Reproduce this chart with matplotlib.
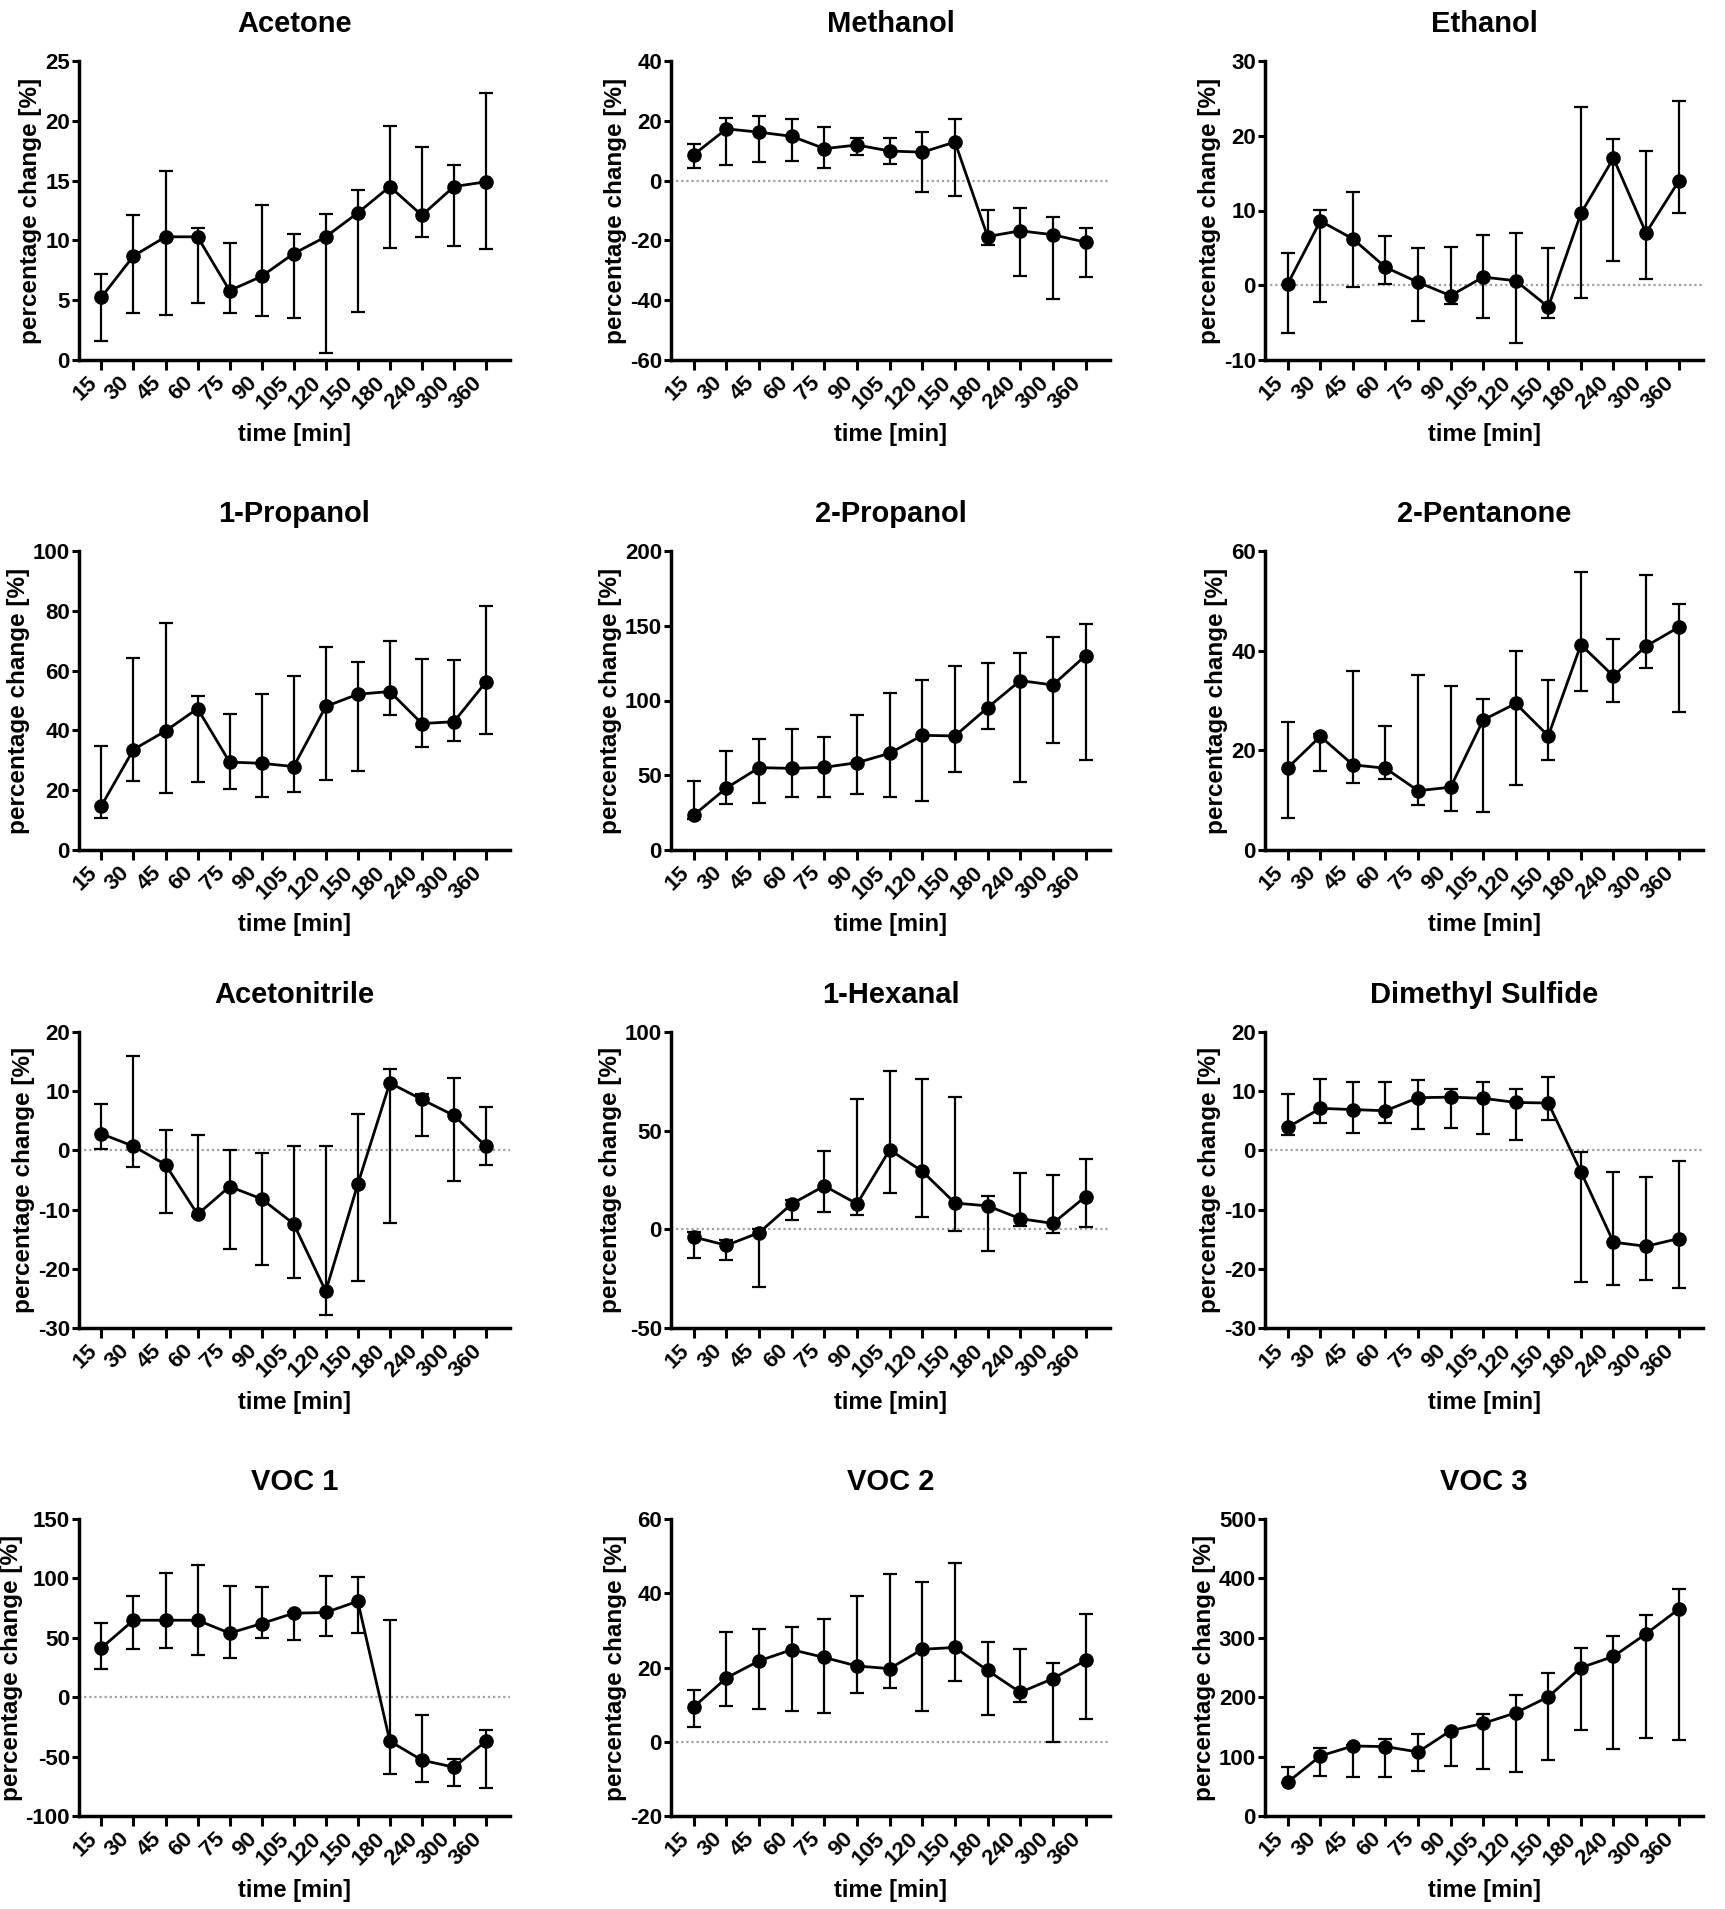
import matplotlib
matplotlib.use('Agg')
import matplotlib.pyplot as plt
import matplotlib.transforms as mtransforms
import numpy as np

plt.rcParams['font.family'] = ['Liberation Sans', 'DejaVu Sans']
plt.rcParams['font.weight'] = 'bold'
plt.rcParams['axes.unicode_minus'] = False

times = ['15', '30', '45', '60', '75', '90', '105', '120', '150', '180', '240', '300', '360']

# ---- data (centre value, lower whisker, upper whisker) ----
acetone_mid = [5.25, 8.7, 10.3, 10.3, 5.8, 7.0, 8.9, 10.3, 12.3, 14.5, 12.1, 14.5, 14.9]
acetone_lo = [1.6, 3.9, 3.8, 4.8, 3.9, 3.7, 3.5, 0.6, 4.0, 9.4, 10.3, 9.5, 9.3]
acetone_hi = [7.2, 12.1, 15.8, 11.0, 9.8, 13.0, 10.5, 12.2, 14.2, 19.6, 17.8, 16.3, 22.3]

methanol_mid = [8.7, 17.3, 16.2, 14.8, 10.7, 11.9, 9.9, 9.5, 12.9, -18.7, -16.8, -18.1, -20.6]
methanol_lo = [4.2, 5.2, 6.1, 6.4, 4.3, 8.6, 5.5, -3.8, -5.0, -21.5, -31.9, -39.7, -32.2]
methanol_hi = [12.2, 21.0, 21.7, 20.7, 17.8, 14.3, 14.3, 16.2, 20.5, -9.9, -9.3, -12.3, -15.9]

ethanol_mid = [0.2, 8.6, 6.2, 2.4, 0.4, -1.4, 1.1, 0.6, -2.9, 9.6, 17.0, 7.0, 13.9]
ethanol_lo = [-6.4, -2.3, -0.2, 0.2, -4.8, -2.5, -4.4, -7.7, -4.4, -1.7, 3.3, 0.9, 9.7]
ethanol_hi = [4.3, 10.1, 12.5, 6.6, 5.0, 5.1, 6.7, 7.0, 5.0, 23.9, 19.6, 18.0, 24.7]

propanol1_mid = [14.8, 33.6, 39.8, 47.3, 29.4, 29.0, 27.9, 48.0, 52.1, 53.0, 42.3, 42.9, 56.2]
propanol1_lo = [10.8, 23.2, 19.2, 22.6, 20.5, 17.6, 19.5, 23.4, 26.5, 45.0, 34.4, 36.6, 38.9]
propanol1_hi = [34.7, 64.2, 75.8, 51.6, 45.4, 52.2, 58.2, 67.9, 63.0, 70.0, 64.0, 63.7, 81.7]

propanol2_mid = [23.4, 41.5, 55.1, 54.6, 55.3, 58.4, 64.7, 76.7, 76.3, 95.2, 113.3, 110.4, 130.0]
propanol2_lo = [21.0, 30.8, 31.2, 35.2, 35.2, 37.7, 35.2, 33.0, 52.4, 80.9, 45.5, 71.3, 60.2]
propanol2_hi = [46.4, 66.4, 74.0, 81.2, 75.6, 90.1, 105.0, 113.9, 123.3, 124.9, 131.8, 142.5, 150.9]

pentanone_mid = [16.5, 22.8, 17.1, 16.4, 11.9, 12.6, 26.1, 29.4, 22.9, 41.2, 34.9, 40.9, 44.7]
pentanone_lo = [6.5, 15.9, 13.4, 14.2, 9.0, 7.8, 7.6, 13.1, 18.0, 32.0, 29.6, 36.5, 27.6]
pentanone_hi = [25.7, 23.3, 36.0, 24.9, 35.1, 33.0, 30.3, 40.0, 34.2, 55.7, 42.3, 55.2, 49.3]

acetonitrile_mid = [2.8, 0.7, -2.4, -10.8, -6.1, -8.2, -12.4, -23.8, -5.7, 11.4, 8.6, 5.9, 0.7]
acetonitrile_lo = [0.3, -2.8, -10.6, -11.1, -16.7, -19.4, -21.5, -27.8, -22.1, -12.2, 2.4, -5.2, -2.4]
acetonitrile_hi = [7.9, 15.9, 3.5, 2.6, 0.1, -0.4, 0.8, 0.7, 6.1, 13.8, 9.6, 12.3, 7.4]

hexanal_mid = [-3.9, -8.1, -1.7, 12.9, 22.0, 12.9, 40.3, 29.4, 13.3, 11.9, 5.4, 3.0, 16.6]
hexanal_lo = [-14.6, -15.4, -29.4, 4.9, 8.6, 7.4, 18.3, 6.5, -0.7, -10.9, 1.5, -1.7, 1.2]
hexanal_hi = [-1.3, -5.5, 0.0, 15.1, 39.6, 66.3, 80.4, 76.2, 67.0, 17.1, 28.5, 27.7, 35.6]

dms_mid = [3.9, 7.1, 6.9, 6.7, 8.9, 9.0, 8.8, 8.1, 8.0, -3.6, -15.5, -16.2, -14.9]
dms_lo = [2.6, 4.6, 2.9, 4.6, 3.6, 3.8, 2.8, 1.7, 5.2, -22.2, -22.7, -21.9, -23.2]
dms_hi = [9.6, 12.1, 11.6, 11.6, 11.9, 10.4, 11.5, 10.3, 12.4, -0.3, -3.6, -4.5, -1.8]

voc1_mid = [41.5, 64.8, 64.8, 64.8, 53.9, 62.0, 70.7, 71.3, 80.8, -37.0, -53.0, -58.9, -37.0]
voc1_lo = [24.1, 40.4, 41.5, 35.6, 33.1, 50.2, 48.0, 51.4, 54.2, -64.8, -71.8, -74.4, -76.6]
voc1_hi = [62.3, 85.3, 104.9, 111.7, 93.4, 92.6, 72.0, 101.9, 101.0, 65.1, -14.6, -51.9, -27.8]

voc2_mid = [9.4, 17.2, 21.8, 24.8, 22.7, 20.4, 19.7, 24.9, 25.4, 19.2, 13.3, 17.0, 21.9]
voc2_lo = [3.9, 9.5, 8.7, 8.2, 7.8, 13.2, 14.4, 8.3, 16.4, 7.3, 10.7, -0.2, 6.0]
voc2_hi = [13.9, 29.6, 30.3, 31.0, 33.1, 39.2, 45.1, 43.1, 48.2, 26.8, 25.1, 21.2, 34.3]

voc3_mid = [57, 101.1, 117.9, 116.8, 107.8, 143.6, 155.9, 173.7, 200.6, 249.7, 268.7, 306.7, 348.0]
voc3_lo = [55, 67, 65.9, 65.9, 75.4, 84.4, 79.9, 74.3, 94.4, 145.3, 112.8, 131.8, 128.5]
voc3_hi = [82.7, 115.1, 119.0, 130.2, 138.5, 145.0, 171.5, 204.5, 240.8, 282.1, 302.8, 338.0, 382.1]

titles = ['Acetone', 'Methanol', 'Ethanol',
          '1-Propanol', '2-Propanol', '2-Pentanone',
          'Acetonitrile', '1-Hexanal', 'Dimethyl Sulfide',
          'VOC 1', 'VOC 2', 'VOC 3']
mids = [acetone_mid, methanol_mid, ethanol_mid, propanol1_mid, propanol2_mid, pentanone_mid,
        acetonitrile_mid, hexanal_mid, dms_mid, voc1_mid, voc2_mid, voc3_mid]
los = [acetone_lo, methanol_lo, ethanol_lo, propanol1_lo, propanol2_lo, pentanone_lo,
       acetonitrile_lo, hexanal_lo, dms_lo, voc1_lo, voc2_lo, voc3_lo]
his = [acetone_hi, methanol_hi, ethanol_hi, propanol1_hi, propanol2_hi, pentanone_hi,
       acetonitrile_hi, hexanal_hi, dms_hi, voc1_hi, voc2_hi, voc3_hi]
y_ranges = [(0, 25, 5), (-60, 40, 20), (-10, 30, 10),
            (0, 100, 20), (0, 200, 50), (0, 60, 20),
            (-30, 20, 10), (-50, 100, 50), (-30, 20, 10),
            (-100, 150, 50), (-20, 60, 20), (0, 500, 100)]

# ---- layout (pixels) ----
W, H = 1725, 1909
lefts = [79, 671, 1265]
rights = [510, 1110, 1703]
tops = [61, 551, 1032, 1519]
bottoms = [360, 850, 1328, 1816]

fig = plt.figure(figsize=(W / 100, H / 100), dpi=100)
x = np.arange(len(times))
shift = mtransforms.ScaledTranslation(6 / 100, 0, fig.dpi_scale_trans)

for i in range(12):
    r, c = divmod(i, 3)
    l, rr, t, b = lefts[c], rights[c], tops[r], bottoms[r]
    ax = fig.add_axes([l / W, 1 - b / H, (rr - l) / W, (b - t) / H])
    m = np.array(mids[i], dtype=float)
    lo = np.array(los[i], dtype=float)
    hi = np.array(his[i], dtype=float)
    yerr = np.vstack([np.clip(m - lo, 0, None), np.clip(hi - m, 0, None)])
    ymin, ymax, step = y_ranges[i]
    if ymin < 0:
        ax.axhline(0, color='#a0a0a0', lw=1.6, ls=(0, (1, 1.3)), zorder=0)
    ax.errorbar(x, m, yerr=yerr, fmt='-o', color='black', ms=9.5, lw=2.0,
                elinewidth=1.6, capsize=5, capthick=1.6, zorder=3, clip_on=False)
    ax.set_xlim(-0.7, 12.75)
    ax.set_ylim(ymin, ymax)
    ax.set_yticks(np.arange(ymin, ymax + step / 2, step))
    ax.set_xticks(x)
    ax.set_xticklabels(times, rotation=45, ha='right')
    for lab in ax.get_xticklabels():
        lab.set_transform(lab.get_transform() + shift)
    for s in ['top', 'right']:
        ax.spines[s].set_visible(False)
    for s in ['left', 'bottom']:
        ax.spines[s].set_linewidth(2.5)
    ax.tick_params(axis='y', direction='out', length=5, width=2.2, pad=1.5, labelsize=16)
    ax.tick_params(axis='x', direction='out', length=7, width=2.2, pad=2, labelsize=16)
    ax.set_title(titles[i], fontsize=21, fontweight='bold', pad=21)
    ax.set_ylabel('percentage change [%]', fontsize=17.5, fontweight='bold', labelpad=2)
    ax.set_xlabel('time [min]', fontsize=17, fontweight='bold', labelpad=7)

fig.savefig('out.png', dpi=100, facecolor='white')
